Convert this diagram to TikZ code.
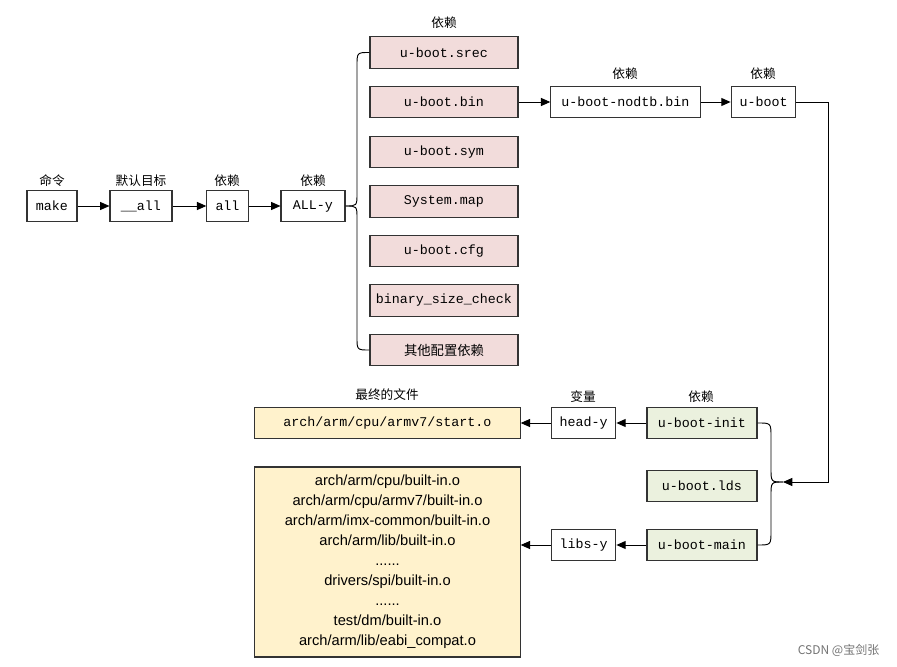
\documentclass[tikz,border=0pt]{standalone}
\usepackage{fontspec}
\setmainfont{Liberation Mono}
\newfontfamily\cjk{Noto Sans CJK SC}
\newfontfamily\sans{Liberation Sans}
\usetikzlibrary{arrows.meta}
\definecolor{pinkf}{HTML}{F2DCDB}
\definecolor{greenf}{HTML}{EBF1DE}
\definecolor{yellowf}{HTML}{FFF2CC}
\begin{document}
\begin{tikzpicture}[x=0.75pt,y=-0.75pt,
  bx/.style={draw=black!80,line width=0.8pt,minimum height=23.5pt,inner sep=0pt,font=\fontsize{10}{12}\selectfont},
  pk/.style={bx,fill=pinkf,minimum width=111pt},
  gr/.style={bx,fill=greenf,minimum width=82.5pt},
  lab/.style={font=\cjk\fontsize{9.5}{11}\selectfont},
  arr/.style={-{Triangle[length=7pt,width=6pt]},line width=0.7pt},
  ln/.style={line width=0.7pt}]
\useasboundingbox (0,0) rectangle (897,667);
\node[bx,minimum width=37.5pt] (make) at (52,206) {make};
\node[bx,minimum width=46.5pt] (all2) at (141,206) {\_\_all};
\node[bx,minimum width=31pt] (all) at (227.5,206) {all};
\node[bx,minimum width=48pt] (ally) at (313,206) {ALL-y};
\node[lab] at (52,181) {命令};
\node[lab] at (141,181) {默认目标};
\node[lab] at (227,181) {依赖};
\node[lab] at (313,181) {依赖};
\draw[arr] (make) -- (all2);
\draw[arr] (all2) -- (all);
\draw[arr] (all) -- (ally);
\node[pk] (srec) at (444,52.5) {u-boot.srec};
\node[pk] (bin) at (444,102) {u-boot.bin};
\node[pk] (sym) at (444,152) {u-boot.sym};
\node[pk] (map) at (444,201.5) {System.map};
\node[pk] (cfg) at (444,251) {u-boot.cfg};
\node[pk] (bsc) at (444,300.5) {binary\_size\_check};
\node[pk] (oth) at (444,350) {\cjk 其他配置依赖};
\node[lab] at (444,23) {依赖};
\draw[ln] (srec.west) .. controls (357,52.5) .. (357,66) -- (357,193) .. controls (357,206) .. (ally.east);
\draw[ln] (oth.west) .. controls (357,350) .. (357,337) -- (357,219) .. controls (357,206) .. (ally.east);
\node[bx,minimum width=112pt] (nodtb) at (625.5,102) {u-boot-nodtb.bin};
\node[bx,minimum width=48.5pt] (ub) at (763.5,102) {u-boot};
\node[lab] at (625,74) {依赖};
\node[lab] at (763,74) {依赖};
\draw[arr] (bin) -- (nodtb);
\draw[arr] (nodtb) -- (ub);
\node[gr] (init) at (702,423) {u-boot-init};
\node[gr] (lds) at (702,486) {u-boot.lds};
\node[gr] (main) at (702,545) {u-boot-main};
\node[lab] at (701,397) {依赖};
\coordinate (tip) at (783,482);
\draw[ln] (init.east) .. controls (771,423) .. (771,437) -- (771,468) .. controls (771,482) .. (tip);
\draw[ln] (main.east) .. controls (771,545) .. (771,531) -- (771,496) .. controls (771,482) .. (tip);
\coordinate (c1) at (828,102);
\coordinate (c2) at (828,482);
\draw[arr] (ub.east) -- (c1) -- (c2) -- (tip);
\node[bx,minimum width=48.5pt] (head) at (583.5,423) {head-y};
\node[bx,minimum width=48.5pt] (libs) at (583.5,545) {libs-y};
\node[lab] at (583,397) {变量};
\draw[arr] (init) -- (head);
\draw[arr] (main) -- (libs);
\node[bx,fill=yellowf,minimum width=199pt] (start) at (387.5,423) {arch/arm/cpu/armv7/start.o};
\node[lab] at (387,395) {最终的文件};
\draw[arr] (head) -- (start);
\node[bx,fill=yellowf,minimum width=199pt,minimum height=142.5pt,align=center,font=\sans\fontsize{11}{15}\selectfont] (big) at (387.5,562) {arch/arm/cpu/built-in.o\\arch/arm/cpu/armv7/built-in.o\\arch/arm/imx-common/built-in.o\\arch/arm/lib/built-in.o\\......\\drivers/spi/built-in.o\\......\\test/dm/built-in.o\\arch/arm/lib/eabi\_compat.o};
\draw[arr] (libs) -- (libs -| big.east);
\node[font=\cjk\fontsize{9}{11}\selectfont,text=black!55,anchor=east] at (884,650) {CSDN @宝剑张};
\end{tikzpicture}
\end{document}
